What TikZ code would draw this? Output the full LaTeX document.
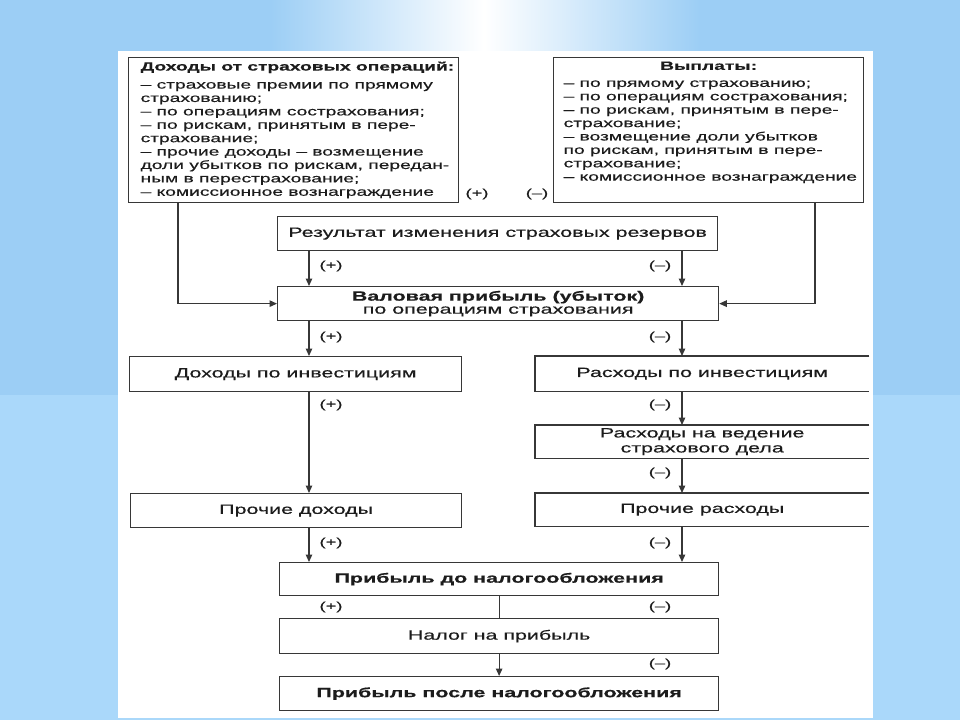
\documentclass[tikz,border=0pt]{standalone}
\usepackage{fontspec}
\setmainfont{Liberation Sans}[FakeStretch=1.6, FakeBold=0.45]
\usetikzlibrary{arrows.meta,calc}
\definecolor{skyb}{RGB}{156,206,245}
\definecolor{skyl}{RGB}{170,216,250}
\definecolor{ink}{RGB}{28,28,28}
\definecolor{lin}{RGB}{55,55,55}
\begin{document}
\begin{tikzpicture}[x=1pt,y=-1pt,
  box/.style={draw=lin, line width=1.25pt, inner sep=0pt, text=ink, align=center,
    font=\fontsize{13.4}{14.5}\selectfont},
  obox/.style={inner sep=0pt, text=ink, align=center, font=\fontsize{13.4}{15}\selectfont},
  oside/.style={draw=lin, line width=1.25pt, line join=miter},
  arr/.style={draw=lin, line width=1.25pt, -{Triangle[length=7.5pt,width=6.5pt]}},
  lnk/.style={draw=lin, line width=1.25pt},
  sgn/.style={text=ink, inner sep=0pt, font=\fontsize{11.5}{13}\selectfont}]
\useasboundingbox (0,0) rectangle (960,720);
% background
\fill[skyb] (0,0) rectangle (960,720);
\fill[skyl] (0,395) rectangle (960,720);
\shade[left color=skyb, right color=white] (270,0) rectangle (484,52);
\shade[left color=white, right color=skyb] (484,0) rectangle (700,52);
\fill[white] (118,51) rectangle (873,718);

% top boxes
\node[box, anchor=north west, minimum width=330pt, minimum height=145pt] (inc) at (128,57)
 {\parbox[c][137pt][t]{306pt}{\fontsize{12}{13.4}\selectfont\raggedright
  \mbox{\bfseries Доходы от страховых операций:}\\[4.6pt]
  \mbox{– страховые премии по прямому}\\
  \mbox{страхованию;}\\
  \mbox{– по операциям сострахования;}\\
  \mbox{– по рискам, принятым в пере-}\\
  \mbox{страхование;}\\
  \mbox{– прочие доходы – возмещение}\\
  \mbox{доли убытков по рискам, передан-}\\
  \mbox{ным в перестрахование;}\\
  \mbox{– комиссионное вознаграждение}}};
\node[box, anchor=north west, minimum width=310pt, minimum height=145pt] (pay) at (553,57)
 {\parbox[c][137pt][t]{290pt}{\fontsize{12}{13.4}\selectfont\raggedright
  \makebox[290pt]{\bfseries Выплаты:}\\[3.6pt]
  \mbox{– по прямому страхованию;}\\
  \mbox{– по операциям сострахования;}\\
  \mbox{– по рискам, принятым в пере-}\\
  \mbox{страхование;}\\
  \mbox{– возмещение доли убытков}\\
  \mbox{по рискам, принятым в пере-}\\
  \mbox{страхование;}\\
  \mbox{– комиссионное вознаграждение}}};

% middle column
\node[box, anchor=north west, minimum width=440pt, minimum height=34pt] (res) at (277,216)
 {Результат изменения страховых резервов};
\node[box, anchor=north west, minimum width=441pt, minimum height=34pt] (gross) at (277,286)
 {\textbf{Валовая прибыль (убыток)}\\[-1.5pt]по операциям страхования};

% left column
\node[box, anchor=north west, minimum width=332pt, minimum height=35pt] (invinc) at (129,356)
 {Доходы по инвестициям};
\node[box, anchor=north west, minimum width=331pt, minimum height=34pt] (othinc) at (130,493)
 {Прочие доходы};

% right column (right sides cut off)
\node[obox, anchor=north west, minimum width=334pt, minimum height=35pt] (invexp) at (535,356)
 {Расходы по инвестициям};
\draw[oside] (invexp.north east) -- (invexp.north west) -- (invexp.south west) -- (invexp.south east);
\node[obox, anchor=north west, minimum width=334pt, minimum height=33pt] (busexp) at (535,425)
 {Расходы на ведение\\страхового дела};
\draw[oside] (busexp.north east) -- (busexp.north west) -- (busexp.south west) -- (busexp.south east);
\node[obox, anchor=north west, minimum width=334pt, minimum height=33pt] (othexp) at (535,493)
 {Прочие расходы};
\draw[oside] (othexp.north east) -- (othexp.north west) -- (othexp.south west) -- (othexp.south east);

% bottom column
\node[box, anchor=north west, minimum width=439pt, minimum height=33pt] (pbt) at (279,562)
 {\textbf{Прибыль до налогообложения}};
\node[box, anchor=north west, minimum width=439pt, minimum height=35pt] (tax) at (279,618)
 {Налог на прибыль};
\node[box, anchor=north west, minimum width=439pt, minimum height=34pt] (net) at (279,676)
 {\textbf{Прибыль после налогообложения}};

% connector x positions
\coordinate (L) at (309,0);
\coordinate (R) at (682,0);
\coordinate (IL) at (178,0);
\coordinate (PR) at (815,0);

\draw[arr] (inc.south -| IL) |- (gross.west);
\draw[arr] (pay.south -| PR) |- (gross.east);
\draw[arr] (res.south -| L) -- (gross.north -| L);
\draw[arr] (res.south -| R) -- (gross.north -| R);
\draw[arr] (gross.south -| L) -- (invinc.north -| L);
\draw[arr] (gross.south -| R) -- (invexp.north -| R);
\draw[arr] (invinc.south -| L) -- (othinc.north -| L);
\draw[arr] (invexp.south -| R) -- (busexp.north -| R);
\draw[arr] (busexp.south -| R) -- (othexp.north -| R);
\draw[arr] (othinc.south -| L) -- (pbt.north -| L);
\draw[arr] (othexp.south -| R) -- (pbt.north -| R);
\draw[lnk] (pbt.south) -- (tax.north);
\draw[arr] (tax.south) -- (net.north);

% signs
\node[sgn] (p1) at (477,194) {(+)};
\node[sgn] (m1) at (537,194) {(–)};
\node[sgn] (p2) at (331,266) {(+)};
\node[sgn] (m2) at (660,266) {(–)};
\node[sgn] (p3) at (331,337) {(+)};
\node[sgn] (m3) at (660,337) {(–)};
\node[sgn] (p4) at (331,405) {(+)};
\node[sgn] (m4) at (660,405) {(–)};
\node[sgn] (m5) at (660,473) {(–)};
\node[sgn] (p6) at (331,543) {(+)};
\node[sgn] (m6) at (660,543) {(–)};
\node[sgn] (p7) at (331,607) {(+)};
\node[sgn] (m7) at (660,607) {(–)};
\node[sgn] (m8) at (660,664) {(–)};
\end{tikzpicture}
\end{document}
